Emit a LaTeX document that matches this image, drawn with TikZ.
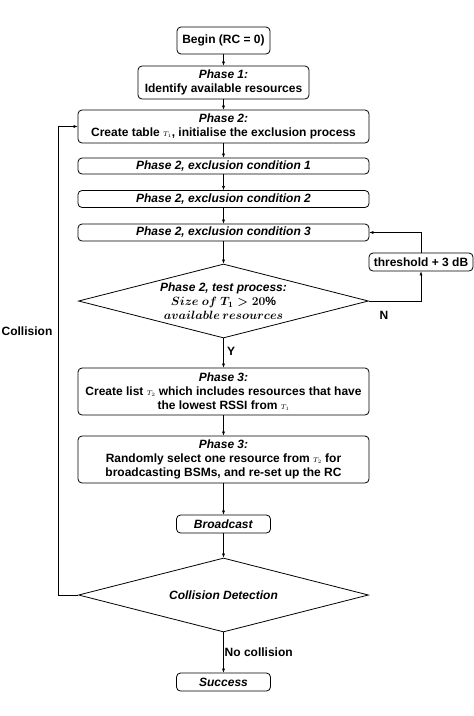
\documentclass[tikz,border=0pt]{standalone}
\usepackage{fontspec}
\setmainfont{Liberation Sans}
\usetikzlibrary{shapes.geometric,arrows.meta}

\begin{document}
\begin{tikzpicture}[x=1pt, y=-1pt, >={Latex[length=4pt,width=3pt]},
    font=\fontsize{12}{14}\selectfont\bfseries,
    box/.style={draw, rounded corners=4pt, align=center, inner sep=1pt, line width=0.8pt},
    test/.style={draw, diamond, aspect=3.9, minimum width=290pt, minimum height=74pt,
                 inner sep=0pt, align=center, line width=0.8pt}]
    \useasboundingbox (0,0) rectangle (474,716);

    \node[box, minimum width=93pt, minimum height=27pt] (begin) at (223.5,40.5) {Begin (RC = 0)};
    \node[box, minimum width=171pt, minimum height=33pt] (ph1) at (223.5,82.5) {\textit{Phase 1:}\\Identify available resources};
    \node[box, minimum width=291pt, minimum height=33pt] (ph2) at (223.5,126.5) {\textit{Phase 2:}\\Create table {\scriptsize$T_1$}, initialise the exclusion process};
    \node[box, minimum width=291pt, minimum height=16pt] (ex1) at (223.5,166) {\textit{Phase 2, exclusion condition 1}};
    \node[box, minimum width=291pt, minimum height=17pt] (ex2) at (223.5,199) {\textit{Phase 2, exclusion condition 2}};
    \node[box, minimum width=291pt, minimum height=17pt] (ex3) at (223.5,232.5) {\textit{Phase 2, exclusion condition 3}};
    \node[test] (tst) at (223.5,301) {\textit{Phase 2, test process:}\\{\boldmath$Size\ of\ T_1 > 20\%$}\\{\boldmath$available\,resources$}};
    \node[box, minimum width=104pt, minimum height=18pt] (thr) at (421,262) {threshold + 3 dB};
    \node[box, minimum width=291pt, minimum height=47pt] (ph3a) at (223.5,391.5) {\textit{Phase 3:}\\Create list {\scriptsize$T_2$} which includes resources that have\\the lowest RSSI from {\scriptsize$T_1$}};
    \node[box, minimum width=291pt, minimum height=47pt] (ph3b) at (223.5,459.5) {\textit{Phase 3:}\\Randomly select one resource from {\scriptsize$T_2$} for\\broadcasting BSMs, and re-set up the RC};
    \node[box, minimum width=94pt, minimum height=18pt] (bc) at (223.5,524) {\textit{Broadcast}};
    \node[test] (coll) at (223.5,595) {\textit{Collision Detection}};
    \node[box, minimum width=94pt, minimum height=18pt] (succ) at (223.5,682) {\textit{Success}};

    \draw[->,thin] (begin) -- (ph1);
    \draw[->,thin] (ph1) -- (ph2);
    \draw[->,thin] (ph2) -- (ex1);
    \draw[->,thin] (ex1) -- (ex2);
    \draw[->,thin] (ex2) -- (ex3);
    \draw[->,thin] (ex3) -- (tst);
    \draw[->,thin] (tst) -- node[right, pos=0.45] {Y} (ph3a);
    \draw[->,thin] (tst.east) -| (thr.south);
    \draw[->,thin] (thr.north) |- (ex3.east);
    \draw[->,thin] (ph3a) -- (ph3b);
    \draw[->,thin] (ph3b) -- (bc);
    \draw[->,thin] (bc) -- (coll);
    \draw[->,thin] (coll) -- node[right, inner sep=1pt] {No collision} (succ);
    \draw[->,thin] (coll.west) -- ++(-20,0) |- (ph2.west);

    \node (lblN) at (384,315) {N};
    \node (lblcol) at (27,331) {Collision};
\end{tikzpicture}
\end{document}
